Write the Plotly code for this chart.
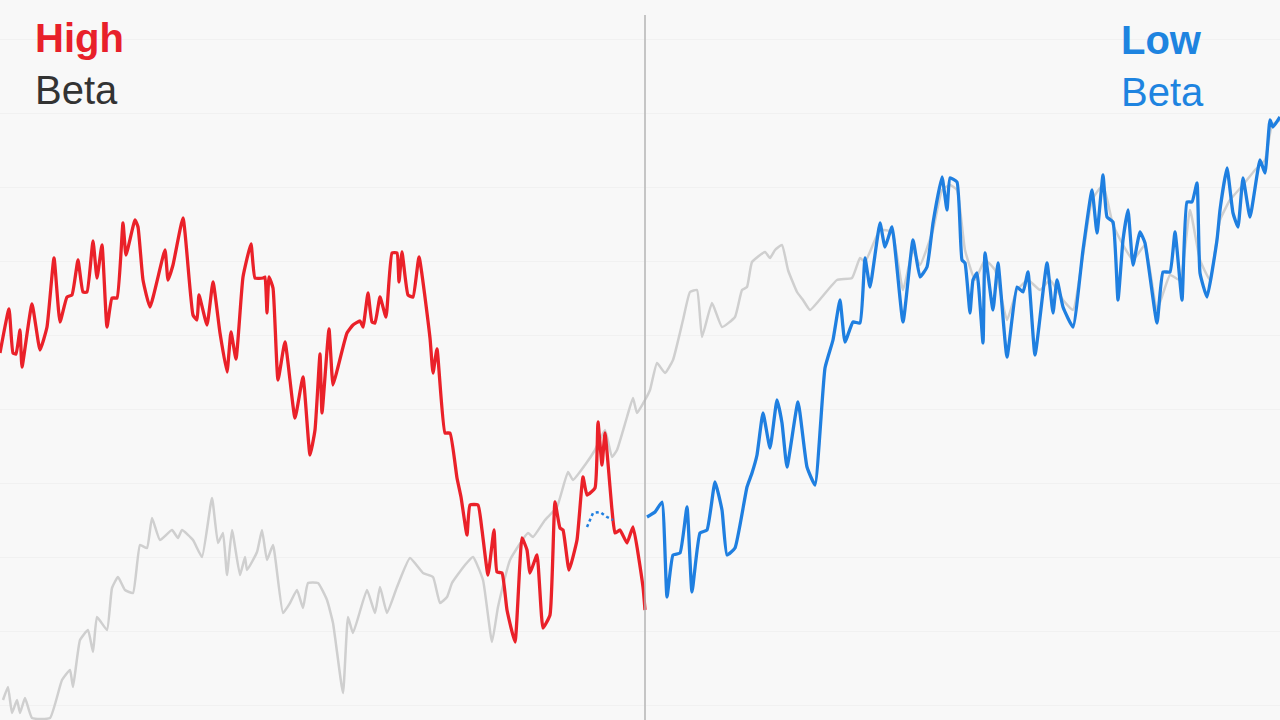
import plotly.graph_objects as go

# High beta basket (left half)
red_x = [0, 9, 13, 16, 20, 22, 32, 40, 47, 54, 60, 67, 72, 78, 83, 87, 93, 97, 102, 107,
         112, 117, 123, 126, 135, 138, 143, 150, 165, 168, 173, 183, 193, 197, 199, 207,
         213, 220, 227, 231, 236, 243, 251, 255, 263, 265, 267, 269, 273, 278, 285, 295,
         303, 310, 315, 320, 322, 329, 333, 338, 347, 353, 360, 363, 368, 372, 375, 380,
         386, 392, 397, 399, 402, 408, 413, 419, 430, 433, 437, 445, 450, 457, 461, 467,
         470, 478, 482, 488, 494, 497, 502, 507, 515, 522, 527, 530, 537, 543, 550, 555,
         560, 563, 569, 577, 583, 587, 595, 598, 602, 605, 612, 615, 620, 627, 633, 643, 645]
red_y = [367, 411, 367, 366, 390, 353, 416, 370, 393, 462, 398, 423, 425, 460, 428, 428, 479, 442, 475, 393,
         422, 422, 497, 465, 500, 493, 440, 413, 470, 440, 455, 502, 405, 400, 425, 395,
         438, 387, 348, 388, 361, 443, 476, 442, 442, 443, 407, 443, 432, 340, 378, 302,
         343, 265, 290, 366, 307, 391, 335, 353, 387, 395, 399, 393, 427, 398, 397, 423,
         403, 467, 467, 438, 468, 425, 423, 463, 382, 347, 371, 287, 287, 242, 223, 185,
         215, 215, 190, 145, 190, 148, 147, 110, 78, 182, 170, 147, 165, 92, 105, 218,
         192, 190, 150, 180, 243, 225, 232, 298, 255, 287, 210, 187, 190, 177, 193, 133, 110]

# Low beta basket (right half)
blue_x = [647, 655, 662, 667, 673, 680, 687, 692, 700, 707, 715, 722, 727, 735, 747, 752, 757, 763,
          770, 777, 782, 787, 798, 807, 815, 825, 833, 840, 845, 853, 860, 865, 870, 880, 885,
          892, 903, 913, 920, 927, 933, 942, 947, 950, 957, 962, 965, 970, 973, 977, 983, 985,
          993, 998, 1007, 1017, 1023, 1028, 1035, 1047, 1053, 1057, 1063, 1073, 1083, 1092,
          1097, 1103, 1107, 1113, 1118, 1123, 1128, 1133, 1140, 1145, 1157, 1163, 1170, 1175,
          1182, 1187, 1192, 1197, 1200, 1207, 1217, 1220, 1227, 1233, 1238, 1243, 1250, 1260,
          1265, 1270, 1273, 1280]
blue_y = [203, 208, 218, 123, 165, 167, 213, 128, 187, 190, 238, 210, 165, 172, 233, 247, 265, 307,
          272, 320, 297, 253, 318, 253, 235, 352, 380, 420, 378, 398, 397, 462, 433, 497, 473,
          493, 398, 480, 443, 453, 497, 543, 510, 542, 538, 460, 457, 407, 440, 447, 377, 467,
          410, 457, 363, 433, 428, 448, 365, 457, 407, 440, 413, 393, 470, 530,
          487, 545, 503, 498, 420, 480, 510, 455, 488, 477, 397, 448, 448, 488,
          420, 518, 518, 537, 447, 423, 480, 510, 552, 507, 493, 542, 503, 560,
          547, 600, 593, 603]

# short dotted lead-in of the low beta series
lead_x = [587, 593, 600, 607, 613]
lead_y = [193, 207, 208, 203, 200]

# market / benchmark, full width
bench_x = [3, 8, 12, 17, 20, 25, 32, 50, 62, 70, 73, 80, 88, 93, 97, 107, 112, 118, 125, 133,
           140, 147, 152, 160, 172, 178, 182, 193, 202, 212, 218, 223, 227, 232, 240, 245,
           247, 257, 262, 267, 273, 283, 290, 297, 303, 308, 318, 327, 333, 343, 348, 353,
           367, 375, 380, 387, 397, 410, 423, 433, 440, 447, 452, 465, 473, 483, 492, 498,
           510, 528, 533, 545, 557, 568, 573, 585, 595, 605, 612, 617, 627, 633, 637, 645,
           650, 657, 665, 673, 683, 690, 697, 702, 712, 722, 735, 742, 747, 752, 765, 770,
           775, 782, 788, 797, 803, 810, 822, 837, 852, 860, 865, 880, 892, 903, 913, 920,
           933, 942, 950, 957, 965, 975, 985, 995, 1007, 1017, 1028, 1040, 1050, 1063, 1073,
           1083, 1092, 1103, 1113, 1123, 1133, 1145, 1157, 1170, 1180, 1190, 1200, 1210, 1220,
           1230, 1243, 1255, 1265, 1272, 1280]
bench_y = [20, 33, 7, 20, 7, 22, 2, 2, 40, 50, 33, 80, 90, 68, 103, 90, 132, 143, 130, 127,
           175, 172, 202, 180, 190, 182, 190, 180, 163, 222, 177, 187, 145, 190, 145, 163,
           150, 168, 190, 160, 175, 107, 117, 130, 112, 137, 137, 120, 97, 27, 103, 87,
           130, 107, 133, 107, 133, 162, 147, 143, 117, 123, 137, 155, 163, 140, 78, 113,
           160, 187, 183, 200, 213, 248, 240, 255, 270, 290, 263, 270, 303, 322, 307, 320,
           330, 357, 347, 360, 400, 428, 430, 383, 417, 393, 403, 430, 433, 458, 468, 462,
           470, 475, 450, 428, 420, 410, 423, 440, 442, 462, 458, 490, 488, 430, 470, 455,
           490, 530, 535, 530, 470, 440, 460, 450, 400, 430, 440, 430, 440, 420, 410,
           465, 520, 535, 495, 475, 460, 475, 410, 445, 440, 510, 460, 440, 500,
           520, 535, 550, 560, 595, 600]

split_x = 645

fig = go.Figure()

fig.add_trace(go.Scatter(x=bench_x, y=bench_y, mode="lines",
                         line=dict(color="#cfcfcf", width=2.5, shape="spline", smoothing=0.4),
                         hoverinfo="skip"))
fig.add_trace(go.Scatter(x=red_x, y=red_y, mode="lines",
                         line=dict(color="#ea2129", width=3.3, shape="spline", smoothing=0.4)))
fig.add_trace(go.Scatter(x=lead_x, y=lead_y, mode="lines",
                         line=dict(color="#1f7fe0", width=2.5, dash="dot")))
fig.add_trace(go.Scatter(x=blue_x, y=blue_y, mode="lines",
                         line=dict(color="#1f7fe0", width=3.3, shape="spline", smoothing=0.4)))

# divider between the two halves
fig.add_shape(type="line", x0=split_x, x1=split_x, y0=0, y1=705,
              line=dict(color="#b4b4b4", width=1.5))

fig.add_annotation(
    xref="paper", yref="paper", x=33 / 1280, y=1 - 14 / 720,
    xanchor="left", yanchor="top", align="left", showarrow=False,
    text="<b><span style='color:#e8202a'>High</span></b><br><span style='color:#333333'>Beta</span>",
    font=dict(family="Liberation Sans, Arial, sans-serif", size=40),
)
fig.add_annotation(
    xref="paper", yref="paper", x=1119 / 1280, y=1 - 16 / 720,
    xanchor="left", yanchor="top", align="left", showarrow=False,
    text="<b>Low</b><br>Beta",
    font=dict(family="Liberation Sans, Arial, sans-serif", size=40, color="#1e84e0"),
)

fig.update_layout(
    width=1280, height=720,
    margin=dict(l=0, r=0, t=0, b=0),
    showlegend=False,
    plot_bgcolor="#f8f8f8",
    paper_bgcolor="#f8f8f8",
    xaxis=dict(range=[0, 1280], showgrid=False, zeroline=False,
               showticklabels=False, fixedrange=True),
    yaxis=dict(range=[0, 720], showgrid=True, gridcolor="#f1f1f1", gridwidth=1,
               tick0=15, dtick=74, zeroline=False, showticklabels=False,
               fixedrange=True),
)

fig.write_html("out.html", config={"displayModeBar": False},
               post_script="document.body.style.margin='0';document.body.style.overflow='hidden';")
